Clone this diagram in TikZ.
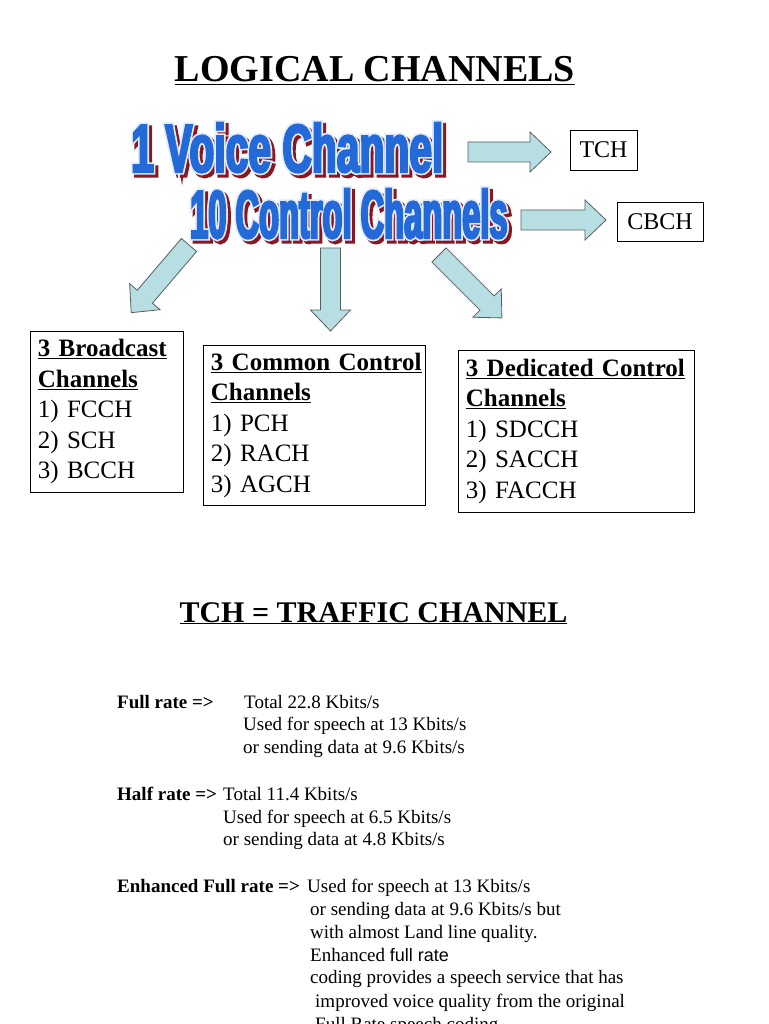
\documentclass[tikz,border=0pt]{standalone}
\usepackage{fontspec}
\setmainfont{Liberation Serif}
\newfontfamily\arialf{Liberation Sans}
\font\waA="Liberation Sans/B:extend=0.6;embolden=3" at 68pt
\font\waAo="Liberation Sans/B:extend=0.6;embolden=8" at 68pt
\font\waB="Liberation Sans/B:extend=0.48;embolden=3" at 68pt
\font\waBo="Liberation Sans/B:extend=0.48;embolden=8" at 68pt
\definecolor{waBlue}{RGB}{35,105,215}
\definecolor{waRed}{RGB}{140,22,32}
\definecolor{waEdge}{RGB}{225,235,250}
\definecolor{arrowFill}{RGB}{183,222,226}
\definecolor{arrowLine}{RGB}{85,95,95}
\newcommand\blockarrow[4]{% x y angle length
  \begin{scope}[shift={(#1,#2)},rotate=#3]
    \draw[barrow] (0pt,-10pt) -- (#4pt-21pt,-10pt) -- (#4pt-21pt,-20pt) -- (#4pt,0pt)
      -- (#4pt-21pt,20pt) -- (#4pt-21pt,10pt) -- (0pt,10pt) -- cycle;
  \end{scope}}
\begin{document}
\begin{tikzpicture}[x=1pt,y=-1pt,
  barrow/.style={fill=arrowFill,draw=arrowLine,line width=0.8pt,line join=miter},
  chbox/.style={draw,line width=0.8pt,anchor=north west,align=left,inner xsep=7.5pt,inner ysep=0pt,
    font=\fontsize{25}{30.5}\selectfont},
  smallbox/.style={draw,line width=0.8pt,inner sep=0pt,font=\fontsize{24}{28}\selectfont},
  wa/.style={anchor=base west,inner sep=0pt},
  body/.style={anchor=base west,inner sep=0pt,font=\fontsize{19}{22.8}\selectfont},
  bodyb/.style={body,font=\fontsize{19}{22.8}\selectfont\bfseries}]
\useasboundingbox (0,0) rectangle (768,1024);
\clip (0,0) rectangle (768,1024);
\fill[white] (0,0) rectangle (768,1024);

\node[anchor=base,inner sep=0pt,font=\fontsize{38}{44}\selectfont\bfseries] (title) at (375,82) {\underline{LOGICAL CHANNELS}};

% WordArt titles: dark red shadow, light edge, blue face
\node[wa,text=waRed] at (134,175) {\waAo 1 Voice Channel};
\node[wa,text=waEdge] at (131,172) {\waAo 1 Voice Channel};
\node[wa,text=waBlue] (voice) at (131,172) {\waA 1 Voice Channel};
\node[wa,text=waRed] at (193,241) {\waBo 10 Control Channels};
\node[wa,text=waEdge] at (190,238) {\waBo 10 Control Channels};
\node[wa,text=waBlue] (control) at (190,238) {\waB 10 Control Channels};

\node[smallbox,minimum width=67pt,minimum height=40pt] (tch) at (603.5,150) {TCH};
\node[smallbox,minimum width=86pt,minimum height=39pt] (cbch) at (660,221.5) {CBCH};

\blockarrow{468}{152}{0}{83}
\blockarrow{521}{220}{0}{85}
\blockarrow{189}{245}{-130.5}{89}
\blockarrow{330.5}{248}{-90}{83}
\blockarrow{439}{255}{-45}{89}

\node[chbox,minimum height=161pt,text width=138pt] (bc) at (30,331)
  {\textbf{\underline{3 Broadcast}}\\\textbf{\underline{Channels}}\\1) FCCH\\2) SCH\\3) BCCH};
\node[chbox,minimum height=160pt,text width=207pt] (cc) at (203,345)
  {\textbf{\underline{3 Common Control}}\\\textbf{\underline{Channels}}\\1) PCH\\2) RACH\\3) AGCH};
\node[chbox,minimum height=162pt,text width=221pt] (dc) at (458,350)
  {\textbf{\underline{3 Dedicated Control}}\\\textbf{\underline{Channels}}\\1) SDCCH\\2) SACCH\\3) FACCH};

\node[anchor=base,inner sep=0pt,font=\fontsize{30}{36}\selectfont\bfseries] (tcht) at (373.5,622) {\underline{TCH = TRAFFIC CHANNEL}};

\node[bodyb] (fr) at (117,708) {Full rate =>};
\node[body] (fr1) at (244,708) {Total 22.8 Kbits/s};
\node[body] (fr2) at (243,730) {Used for speech at 13 Kbits/s};
\node[body] (fr3) at (243,753) {or sending data at 9.6 Kbits/s};
\node[bodyb] (hr) at (117,800) {Half rate =>};
\node[body] (hr1) at (223,800) {Total 11.4 Kbits/s};
\node[body] (hr2) at (223,823) {Used for speech at 6.5 Kbits/s};
\node[body] (hr3) at (223,845) {or sending data at 4.8 Kbits/s};
\node[bodyb] (ef) at (117,892) {Enhanced Full rate =>};
\node[body] (ef1) at (307,892) {Used for speech at 13 Kbits/s};
\node[body] (ef2) at (310,915) {or sending data at 9.6 Kbits/s but};
\node[body] (ef3) at (310,938) {with almost Land line quality.};
\node[body] (ef4) at (310,961) {Enhanced {\arialf\fontsize{18}{22}\selectfont full rate}};
\node[body] (ef5) at (310,983) {coding provides a speech service that has};
\node[body] (ef6) at (315,1007) {improved voice quality from the original};
\node[body] (ef7) at (315,1030) {Full Rate speech coding};
\end{tikzpicture}
\end{document}
